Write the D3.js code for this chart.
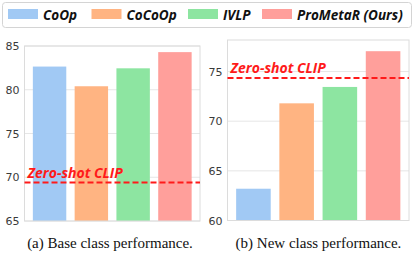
<!DOCTYPE html>
<html>
<head>
<meta charset="utf-8">
<script src="https://cdn.jsdelivr.net/npm/d3@7"></script>
<style>
  body { margin: 0; background: #fff; }
  svg { display: block; }
</style>
</head>
<body>
<div id="chart"></div>
<script>
// data
var methods = ["CoOp", "CoCoOp", "IVLP", "ProMetaR (Ours)"]
var colors = ["#a1c9f4", "#ffb482", "#8de5a1", "#ff9f9b"]
var baseValues = [82.65, 80.4, 82.45, 84.3]
var newValues = [63.2, 71.8, 73.45, 77.05]
var clipBase = 69.4
var clipNew = 74.35
var baseTicks = [65, 70, 75, 80, 85]
var newTicks = [60, 65, 70, 75]

var width = 415, height = 260

var svg = d3.select("#chart").append("svg")
    .attr("width", width)
    .attr("height", height)

// legend
var legend = svg.append("g")
legend.append("rect")
    .attr("x", 2.5).attr("y", 2.5)
    .attr("width", 409).attr("height", 25)
    .attr("rx", 3)
    .attr("fill", "#fff")
    .attr("stroke", "#d4d4d4")
var legendX = [8, 91.5, 188, 262]
methods.forEach(function(m, i){
    legend.append("rect")
        .attr("x", legendX[i]).attr("y", 9)
        .attr("width", 30).attr("height", 10)
        .attr("fill", colors[i])
    legend.append("text")
        .attr("x", legendX[i] + 35).attr("y", 19.5)
        .style("font-family", "'Open Sans', sans-serif")
        .style("font-weight", "bold")
        .style("font-style", "italic")
        .style("font-size", "13.5px")
        .attr("fill", "#111")
        .text(m)
})

function panel(opts){
    var g = svg.append("g")

    var x = d3.scaleLinear()
        .domain([-0.6, 3.6])
        .range([opts.left, opts.right])
    var y = d3.scaleLinear()
        .domain(opts.domain)
        .range([opts.bottom, opts.top])

    // grid
    g.append("g").selectAll("line")
        .data(opts.ticks)
        .enter().append("line")
        .attr("x1", opts.left).attr("x2", opts.right)
        .attr("y1", d => y(d)).attr("y2", d => y(d))
        .attr("stroke", "#e6e6e6")
        .attr("stroke-width", 1)

    // bars
    g.append("g").selectAll("rect")
        .data(opts.values)
        .enter().append("rect")
        .attr("x", (d, i) => x(i - 0.4))
        .attr("width", x(0.4) - x(-0.4))
        .attr("y", d => y(d))
        .attr("height", d => y(opts.domain[0]) - y(d))
        .attr("fill", (d, i) => colors[i])

    // frame
    g.append("rect")
        .attr("x", opts.left).attr("y", opts.top)
        .attr("width", opts.right - opts.left)
        .attr("height", opts.bottom - opts.top)
        .attr("fill", "none")
        .attr("stroke", "#dcdcdc")

    // y axis
    var axis = g.append("g")
        .attr("transform", "translate(" + opts.left + ",0)")
        .call(d3.axisLeft(y).tickValues(opts.ticks).tickSize(0).tickPadding(5))
    axis.select(".domain").remove()
    axis.selectAll("text")
        .style("font-family", "'DejaVu Sans', sans-serif")
        .style("font-size", "11px")
        .attr("fill", "#3a3a3a")

    // zero-shot CLIP line
    g.append("line")
        .attr("x1", opts.left).attr("x2", opts.right)
        .attr("y1", y(opts.clip)).attr("y2", y(opts.clip))
        .attr("stroke", "#ff1a1a")
        .attr("stroke-width", 2)
        .attr("stroke-dasharray", "6,3")
    g.append("text")
        .attr("x", opts.left + 3)
        .attr("y", y(opts.clip) - 5)
        .style("font-family", "'Open Sans', sans-serif")
        .style("font-weight", "bold")
        .style("font-style", "italic")
        .style("font-size", "14px")
        .attr("fill", "#ff1a1a")
        .text("Zero-shot CLIP")

    // caption
    g.append("text")
        .attr("x", opts.captionX)
        .attr("y", 247.5)
        .attr("text-anchor", "middle")
        .style("font-family", "'Liberation Serif', 'Times New Roman', serif")
        .style("font-size", "15px")
        .attr("fill", "#111")
        .text(opts.caption)
}

panel({left: 24.5, right: 200, top: 46, bottom: 221,
    domain: [65, 85], ticks: baseTicks, values: baseValues,
    clip: clipBase, caption: "(a) Base class performance.", captionX: 110})

panel({left: 227.5, right: 409, top: 40, bottom: 220.5,
    domain: [60, 60 + 180.5 / 9.93], ticks: newTicks, values: newValues,
    clip: clipNew, caption: "(b) New class performance.", captionX: 318.5})
</script>
</body>
</html>
